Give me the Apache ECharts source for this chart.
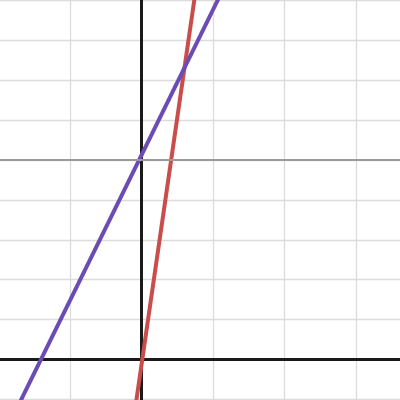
<!DOCTYPE html>
<html>
<head>
<meta charset="utf-8">
<script src="https://cdn.jsdelivr.net/npm/echarts@6/dist/echarts.min.js"></script>
<style>html,body{margin:0;padding:0;background:#fff;}#c{width:400px;height:400px;}</style>
</head>
<body>
<div id="c"></div>
<script>
const purpleLine = [[-2, -2.17], [1.2, 9.5]];
const redLine = [[-0.2, -2.62], [0.8, 9.78]];
const majorY = [5];

const chart = echarts.init(document.getElementById('c'), null, {renderer: 'canvas'});
chart.setOption({
  animation: false,
  backgroundColor: '#fff',
  grid: {left: -1.5, top: -39.2, width: 429, height: 478.2, containLabel: false, outerBoundsMode: 'none'},
  xAxis: {
    type: 'value', min: -2, max: 4, interval: 1,
    axisLine: {onZero: true, lineStyle: {color: '#1a1a1a', width: 3}},
    axisTick: {show: false}, axisLabel: {show: false},
    splitLine: {show: true, lineStyle: {color: '#dcdcdc', width: 1.3}}
  },
  yAxis: {
    type: 'value', min: -2, max: 10, interval: 1,
    axisLine: {onZero: true, lineStyle: {color: '#1a1a1a', width: 3}},
    axisTick: {show: false}, axisLabel: {show: false},
    splitLine: {show: true, lineStyle: {color: '#dcdcdc', width: 1.3}}
  },
  series: [
    {
      type: 'line', data: [], silent: true,
      markLine: {
        silent: true, symbol: 'none', label: {show: false},
        lineStyle: {color: '#9a9a9a', width: 2, type: 'solid'},
        data: majorY.map(v => ({yAxis: v}))
      },
      z: 1
    },
    {type: 'line', data: redLine, symbol: 'none', lineStyle: {color: '#c94d4b', width: 4}, itemStyle: {color: '#c94d4b'}, z: 3},
    {type: 'line', data: purpleLine, symbol: 'none', lineStyle: {color: '#6a4cb4', width: 4}, itemStyle: {color: '#6a4cb4'}, z: 4}
  ]
});
</script>
</body>
</html>
